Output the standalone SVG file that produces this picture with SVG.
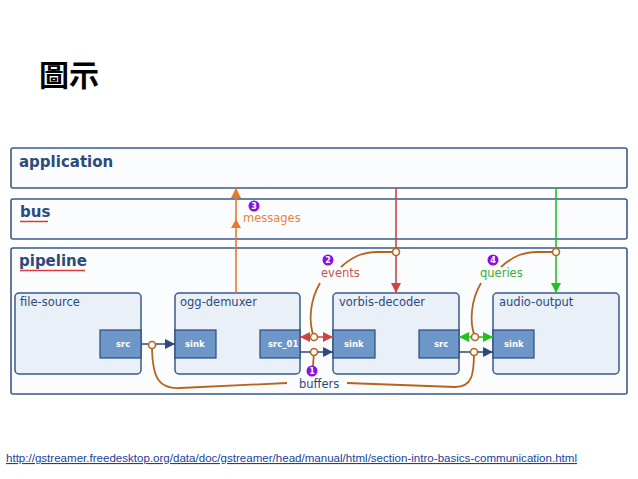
<svg xmlns="http://www.w3.org/2000/svg" width="638" height="479" viewBox="0 0 638 479">
<style>
.lane{fill:#fbfcfe;stroke:#3a5a8c;stroke-width:1.6}
.lanet{font-family:"DejaVu Sans",sans-serif;font-weight:bold;font-size:15px;fill:#2c4a7a}
.ul{stroke:#d93a3a;stroke-width:1.5;fill:none}
.elem{fill:#eaf0f8;stroke:#3a5a8c;stroke-width:1.5}
.elemt{font-family:"DejaVu Sans",sans-serif;font-size:11.5px;fill:#2c4a7a}
.pad{fill:#6d97c9;stroke:#2c4a7a;stroke-width:1.2}
.padt{font-family:"DejaVu Sans",sans-serif;font-weight:bold;font-size:8.5px;fill:#ffffff}
.flow{stroke:#2c4a7a;stroke-width:1.6;fill:none}
.brown{stroke:#b5651d;stroke-width:1.8;fill:none}
.ring{fill:#ffffff;stroke:#b5651d;stroke-width:1.6}
.badge{fill:#8a0fe0}
.badget{font-family:"DejaVu Sans",sans-serif;font-weight:bold;font-size:8px;fill:#ffffff}
.lbl{font-family:"DejaVu Sans",sans-serif;font-size:11.5px}
</style>
<defs>
<marker id="ab" viewBox="0 0 10 10" refX="10" refY="5" markerWidth="10" markerHeight="10" markerUnits="userSpaceOnUse" orient="auto-start-reverse"><path d="M0,0 L10,5 L0,10 z" fill="#2c4a7a"/></marker>
<marker id="ar" viewBox="0 0 10 10" refX="10" refY="5" markerWidth="10" markerHeight="10" markerUnits="userSpaceOnUse" orient="auto-start-reverse"><path d="M0,0 L10,5 L0,10 z" fill="#cc4444"/></marker>
<marker id="ag" viewBox="0 0 10 10" refX="10" refY="5" markerWidth="10" markerHeight="10" markerUnits="userSpaceOnUse" orient="auto-start-reverse"><path d="M0,0 L10,5 L0,10 z" fill="#22c022"/></marker>
<marker id="ao" viewBox="0 0 10 10" refX="10" refY="5" markerWidth="10" markerHeight="10" markerUnits="userSpaceOnUse" orient="auto-start-reverse"><path d="M0,0 L10,5 L0,10 z" fill="#e8792a"/></marker>
</defs>
<rect width="638" height="479" fill="#ffffff"/>
<text x="39" y="86" font-family="'Noto Sans CJK TC','Noto Sans CJK SC',sans-serif" font-weight="bold" font-size="30" fill="#000000">圖示</text>

<g id="application">
<rect class="lane" x="11" y="148" width="616" height="40" rx="2"/>
<text class="lanet" x="19" y="167">application</text>
</g>
<g id="bus">
<rect class="lane" x="11" y="199" width="616" height="40" rx="2"/>
<text class="lanet" x="20" y="217">bus</text>
<line class="ul" x1="20" y1="221.5" x2="48" y2="221.5"/>
</g>
<g id="pipeline">
<rect class="lane" x="11" y="248" width="616" height="146" rx="2"/>
<text class="lanet" x="19" y="266">pipeline</text>
<line class="ul" x1="20" y1="270.5" x2="85" y2="270.5"/>
</g>

<g id="file-source">
<rect class="elem" x="15" y="293" width="126" height="81" rx="4"/>
<text class="elemt" x="20" y="306">file-source</text>
<rect class="pad" x="100" y="330" width="41" height="28"/>
<text class="padt" x="116" y="347">src</text>
</g>
<g id="ogg-demuxer">
<rect class="elem" x="175" y="293" width="125" height="81" rx="4"/>
<text class="elemt" x="180" y="306">ogg-demuxer</text>
<rect class="pad" x="175" y="330" width="41" height="28"/>
<text class="padt" x="185" y="347">sink</text>
<rect class="pad" x="260" y="330" width="40" height="28"/>
<text class="padt" x="268" y="347">src_01</text>
</g>
<g id="vorbis-decoder">
<rect class="elem" x="333" y="293" width="126" height="81" rx="4"/>
<text class="elemt" x="339" y="306">vorbis-decoder</text>
<rect class="pad" x="333" y="330" width="42" height="28"/>
<text class="padt" x="344" y="347">sink</text>
<rect class="pad" x="419" y="330" width="40" height="28"/>
<text class="padt" x="434" y="347">src</text>
</g>
<g id="audio-output">
<rect class="elem" x="493" y="293" width="126" height="81" rx="4"/>
<text class="elemt" x="499" y="306">audio-output</text>
<rect class="pad" x="493" y="330" width="41" height="28"/>
<text class="padt" x="504" y="347">sink</text>
</g>

<g id="connectors">
<line class="flow" x1="141" y1="344" x2="175" y2="344" marker-end="url(#ab)"/>
<line class="flow" x1="300" y1="352" x2="333" y2="352" marker-end="url(#ab)"/>
<line class="flow" x1="459" y1="352" x2="493" y2="352" marker-end="url(#ab)"/>
<line x1="300" y1="337" x2="333" y2="337" stroke="#cc4444" stroke-width="1.6" marker-start="url(#ar)" marker-end="url(#ar)"/>
<line x1="459" y1="337" x2="493" y2="337" stroke="#22c022" stroke-width="1.6" marker-start="url(#ag)" marker-end="url(#ag)"/>
<line x1="396" y1="188" x2="396" y2="293" stroke="#cc4444" stroke-width="1.6" marker-end="url(#ar)"/>
<line x1="556" y1="188" x2="556" y2="293" stroke="#22c022" stroke-width="1.6" marker-end="url(#ag)"/>
<line x1="236" y1="293" x2="236" y2="188" stroke="#e8792a" stroke-width="1.6" marker-end="url(#ao)"/>
<path d="M231,228 L236,219 L241,228 z" fill="#e8792a"/>

<path class="brown" d="M152,345 C152,380 160,389 180,388 L287,383"/>
<path class="brown" d="M347,383 L455,387 C472,387 474,375 474,352"/>
<path class="brown" d="M314,352 L313,366"/>
<path class="brown" d="M314,337 C308,322 310,300 320,283"/>
<path class="brown" d="M341,267 C352,257 362,252 378,252 L396,252"/>
<path class="brown" d="M475,337 C469,322 471,300 481,283"/>
<path class="brown" d="M501,267 C512,257 522,252 538,252 L556,252"/>
<circle class="ring" cx="152" cy="345" r="3.5"/>
<circle class="ring" cx="314" cy="352" r="3.5"/>
<circle class="ring" cx="314" cy="337" r="3.5"/>
<circle class="ring" cx="474" cy="352" r="3.5"/>
<circle class="ring" cx="475" cy="337" r="3.5"/>
<circle class="ring" cx="396" cy="252" r="3.5"/>
<circle class="ring" cx="556" cy="252" r="3.5"/>

<circle class="badge" cx="312" cy="371" r="5.5"/>
<text class="badget" x="312" y="374" text-anchor="middle">1</text>
<text class="lbl" x="299" y="388" fill="#2c4a7a">buffers</text>
<circle class="badge" cx="328" cy="260" r="5.5"/>
<text class="badget" x="328" y="263" text-anchor="middle">2</text>
<text class="lbl" x="321" y="277" fill="#cc5555">events</text>
<circle class="badge" cx="254" cy="206" r="5.5"/>
<text class="badget" x="254" y="209" text-anchor="middle">3</text>
<text class="lbl" x="243" y="222" fill="#e8843a">messages</text>
<circle class="badge" cx="493" cy="260" r="5.5"/>
<text class="badget" x="493" y="263" text-anchor="middle">4</text>
<text class="lbl" x="480" y="277" fill="#33b033">queries</text>
</g>

<text x="6" y="462" font-family="'Liberation Sans',Arial,sans-serif" font-size="11" fill="#1a3fa0" text-decoration="underline" textLength="571" lengthAdjust="spacingAndGlyphs">http://gstreamer.freedesktop.org/data/doc/gstreamer/head/manual/html/section-intro-basics-communication.html</text>
</svg>
